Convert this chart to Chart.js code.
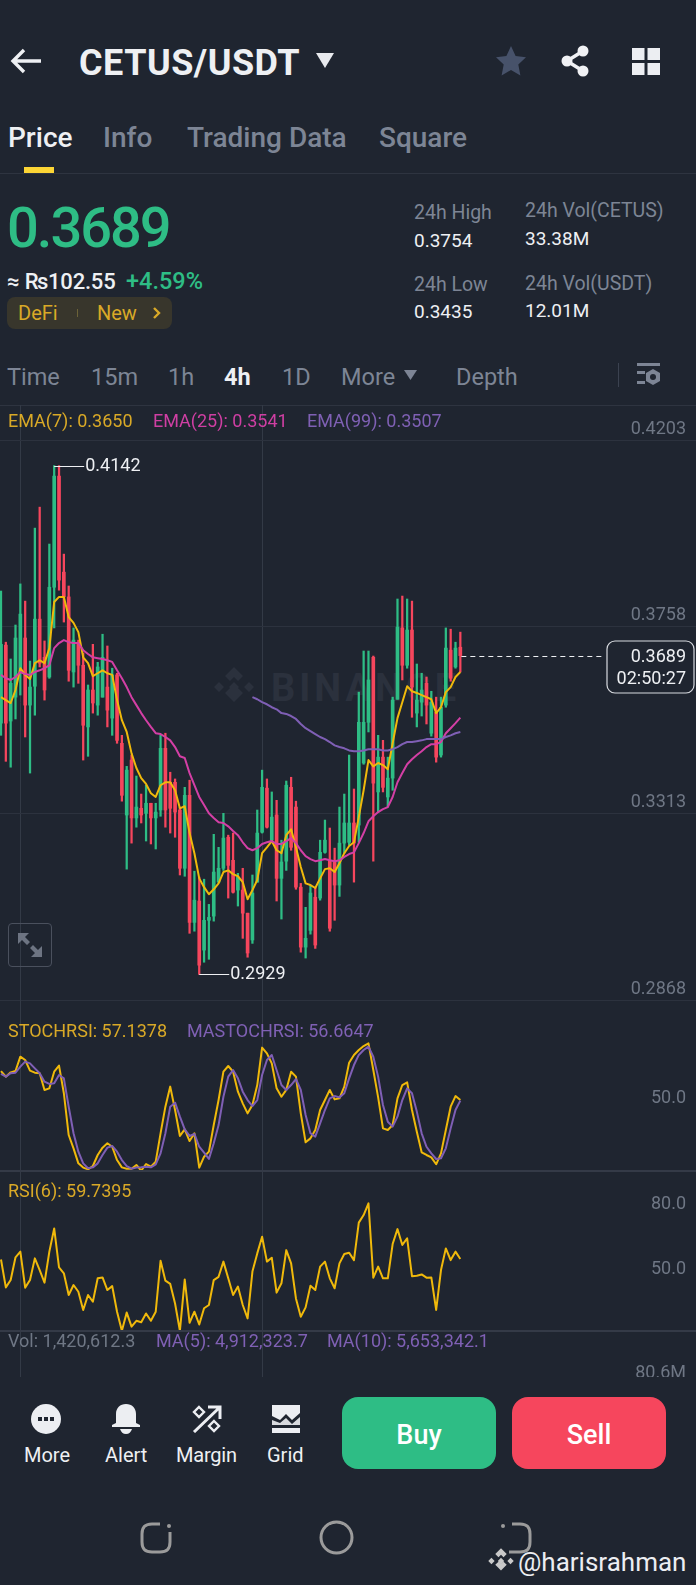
<!DOCTYPE html>
<html><head><meta charset="utf-8">
<script src="https://cdn.jsdelivr.net/npm/chart.js@4"></script>
<style>
html,body{margin:0;padding:0;background:#1f2530;}
#page{position:relative;width:696px;height:1585px;background:#1f2530;overflow:hidden;font-family:Roboto,sans-serif;}
.t{position:absolute;white-space:nowrap;transform:translateY(-50%);line-height:1;}
.hl{position:absolute;left:0;width:696px;height:1px;background:#2e3440;}
.sep{position:absolute;left:0;width:696px;height:2px;background:#343a47;}
.panel{position:absolute;left:0;width:696px;overflow:hidden;}
canvas{position:absolute;left:0;top:0;display:block;}
.g{color:#7d8595;} .w{color:#eef0f3;} .ax{color:#6f7785;}
.y{color:#d9a927;} .m{color:#cf3fa3;} .p{color:#7f60b4;} 
svg{position:absolute;}
</style></head><body><div id="page">

<!-- header -->
<svg style="left:10px;top:47px" width="33" height="28" viewBox="0 0 33 28"><path d="M31 14H3M14 3L3 14l11 11" fill="none" stroke="#eef0f3" stroke-width="3.4"/></svg>
<div class="t w" style="left:79px;top:63px;font-size:36px;font-weight:700;letter-spacing:.5px;">CETUS/USDT</div>
<svg style="left:316px;top:53px" width="18" height="15" viewBox="0 0 18 15"><path d="M0 0H18L9 15Z" fill="#e8eaee"/></svg>
<svg style="left:495px;top:45px" width="32" height="32" viewBox="0 0 32 32"><path d="M16 1l4.6 10 10.4 1.3-7.7 7.2 2.1 11L16 25l-9.4 5.5 2.1-11L1 12.3 11.4 11Z" fill="#47526a"/></svg>
<svg style="left:560px;top:45px" width="30" height="32" viewBox="0 0 30 32"><path d="M23 6L7 16l16 10" fill="none" stroke="#f0f1f4" stroke-width="3.5"/><circle cx="23" cy="6" r="5.5" fill="#f0f1f4"/><circle cx="7" cy="16" r="5.5" fill="#f0f1f4"/><circle cx="23" cy="26" r="5.5" fill="#f0f1f4"/></svg>
<svg style="left:632px;top:48px" width="28" height="27" viewBox="0 0 28 27" fill="#eceef2"><rect width="12.5" height="12"/><rect x="15.5" width="12.5" height="12"/><rect y="15" width="12.5" height="12"/><rect x="15.5" y="15" width="12.5" height="12"/></svg>

<!-- tabs -->
<div class="t w" style="left:8px;top:138px;font-size:28px;font-weight:500;">Price</div>
<div class="t g" style="left:103px;top:138px;font-size:28px;font-weight:500;">Info</div>
<div class="t g" style="left:187px;top:138px;font-size:28px;font-weight:500;">Trading Data</div>
<div class="t g" style="left:379px;top:138px;font-size:28px;font-weight:500;">Square</div>
<div style="position:absolute;left:0;top:173px;width:696px;height:1px;background:#2e3440"></div>
<div style="position:absolute;left:24px;top:167px;width:30px;height:6px;background:#fcd535"></div>

<!-- price block -->
<div class="t" style="left:7px;top:228px;font-size:56px;font-weight:500;letter-spacing:-2px;color:#2ebd85;">0.3689</div>
<div class="t w" style="left:7px;top:282px;font-size:22px;font-weight:500;letter-spacing:-.2px;">≈ ₨102.55</div>
<div class="t" style="left:126px;top:282px;font-size:23.5px;font-weight:500;color:#2ebd85;">+4.59%</div>
<div style="position:absolute;left:7px;top:297px;width:165px;height:32px;border-radius:8px;background:#38362c"></div>
<div class="t y" style="left:18px;top:313px;font-size:20px;">DeFi</div>
<div style="position:absolute;left:77px;top:309px;width:1px;height:8px;background:#6b6238"></div>
<div class="t y" style="left:97px;top:313px;font-size:20px;">New</div>
<svg style="left:152px;top:306px" width="10" height="14" viewBox="0 0 10 14"><path d="M2 2l5 5-5 5" fill="none" stroke="#d9a927" stroke-width="2.4"/></svg>

<div class="t g" style="left:414px;top:213px;font-size:19.5px;">24h High</div>
<div class="t w" style="left:414px;top:240px;font-size:19px;">0.3754</div>
<div class="t g" style="left:414px;top:285px;font-size:19.5px;">24h Low</div>
<div class="t w" style="left:414px;top:311px;font-size:19px;">0.3435</div>
<div class="t g" style="left:525px;top:211px;font-size:19.5px;">24h Vol(CETUS)</div>
<div class="t w" style="left:525px;top:238px;font-size:19px;">33.38M</div>
<div class="t g" style="left:525px;top:284px;font-size:19.5px;">24h Vol(USDT)</div>
<div class="t w" style="left:525px;top:310px;font-size:19px;">12.01M</div>

<!-- interval bar -->
<div class="t g" style="left:7px;top:378px;font-size:23.5px;">Time</div>
<div class="t g" style="left:91px;top:378px;font-size:23.5px;">15m</div>
<div class="t g" style="left:168px;top:378px;font-size:23.5px;">1h</div>
<div class="t w" style="left:224px;top:378px;font-size:23.5px;font-weight:700;">4h</div>
<div class="t g" style="left:282px;top:378px;font-size:23.5px;">1D</div>
<div class="t g" style="left:341px;top:378px;font-size:23.5px;">More</div>
<svg style="left:404px;top:370px" width="13" height="10" viewBox="0 0 13 10"><path d="M0 0H13L6.5 10Z" fill="#7d8595"/></svg>
<div class="t g" style="left:456px;top:378px;font-size:23.5px;">Depth</div>
<div style="position:absolute;left:618px;top:363px;width:1px;height:24px;background:#3b4250"></div>
<svg style="left:637px;top:362px" width="24" height="26" viewBox="0 0 24 26" fill="#7d8595"><rect width="23" height="3" y="1"/><rect x="0" y="9" width="8" height="3"/><rect x="0" y="19" width="8" height="3"/><path d="M16 7l7 4v8l-7 4-7-4v-8z"/><circle cx="16" cy="15" r="3" fill="#1f2530"/></svg>

<!-- watermark behind chart -->
<svg style="left:212px;top:665px" width="44" height="44" viewBox="0 0 44 44" fill="#2b313d"><path d="M22 2l9 9-5 5-4-4-4 4-5-5zM7 17l5 5-5 5-5-5zM37 17l5 5-5 5-5-5zM22 17l5 5-5 5-5-5zM13 28l5-5 4 4 4-4 5 5-9 9z"/></svg>
<div class="t" style="left:271px;top:688px;font-size:38px;font-weight:700;letter-spacing:4px;color:#2b313d;">BINANCE</div>

<div class="hl" style="top:405px"></div>
<div class="panel" style="top:405px;height:597px"><canvas id="mainChart" width="696" height="597"></canvas></div>
<div class="panel" style="top:1000px;height:173px"><canvas id="stochChart" width="696" height="173"></canvas></div>
<div class="panel" style="top:1171px;height:162px"><canvas id="rsiChart" width="696" height="162"></canvas></div>
<div class="panel" style="top:1331px;height:46px"><canvas id="volChart" width="696" height="89"></canvas></div>
<div class="sep" style="top:1170px"></div>
<div class="sep" style="top:1330px"></div>

<!-- indicator legends -->
<div class="t y" style="left:8px;top:421px;font-size:18px;">EMA(7): 0.3650</div>
<div class="t m" style="left:153px;top:421px;font-size:18px;">EMA(25): 0.3541</div>
<div class="t p" style="left:307px;top:421px;font-size:18px;">EMA(99): 0.3507</div>
<div class="t y" style="left:8px;top:1031px;font-size:18px;">STOCHRSI: 57.1378</div>
<div class="t p" style="left:187px;top:1031px;font-size:18px;">MASTOCHRSI: 56.6647</div>
<div class="t y" style="left:8px;top:1191px;font-size:18px;">RSI(6): 59.7395</div>
<div class="t ax" style="left:8px;top:1341px;font-size:18px;">Vol: 1,420,612.3</div>
<div class="t p" style="left:156px;top:1341px;font-size:18px;">MA(5): 4,912,323.7</div>
<div class="t p" style="left:327px;top:1341px;font-size:18px;">MA(10): 5,653,342.1</div>

<!-- expand button -->
<div style="position:absolute;left:8px;top:923px;width:42px;height:42px;border:1.5px solid #4a505d;border-radius:4px"></div>
<svg style="left:17px;top:932px" width="26" height="26" viewBox="0 0 26 26" fill="#6d7482"><path d="M1 1h11L8 5l5 5-3 3-5-5-4 4zM25 25H14l4-4-5-5 3-3 5 5 4-4z"/></svg>

<!-- bottom toolbar -->
<svg style="left:31px;top:1404px" width="30" height="30" viewBox="0 0 30 30"><circle cx="15" cy="15" r="15" fill="#eceef2"/><rect x="7" y="13" width="4" height="4" fill="#1f2530"/><rect x="13" y="13" width="4" height="4" fill="#1f2530"/><rect x="19" y="13" width="4" height="4" fill="#1f2530"/></svg>
<svg style="left:112px;top:1404px" width="28" height="30" viewBox="0 0 28 30" fill="#eceef2"><path d="M14 0c6 0 10 4 10 10v9l4 2v2H0v-2l4-2v-9C4 4 8 0 14 0z"/><path d="M8 25h12c-1 3-3 5-6 5s-5-2-6-5z"/></svg>
<svg style="left:192px;top:1405px" width="30" height="28" viewBox="0 0 30 28"><path d="M2 27L27 3M16 2h12v12" fill="none" stroke="#eceef2" stroke-width="3"/><path d="M7 2l5 5-5 5-5-5z" fill="none" stroke="#eceef2" stroke-width="2.4"/><path d="M22 16l5 5-5 5-5-5z" fill="none" stroke="#eceef2" stroke-width="2.4"/></svg>
<svg style="left:272px;top:1405px" width="28" height="28" viewBox="0 0 28 28" fill="#eceef2"><path d="M0 0h28v8l-8 7-6-6-6 6-8-4z"/><path d="M0 15l8 3 6-5 6 6 8-7v8H0z" opacity=".9"/><rect y="23" width="28" height="5"/></svg>
<div class="t w" style="left:24px;top:1455px;font-size:20px;">More</div>
<div class="t w" style="left:105px;top:1455px;font-size:20px;">Alert</div>
<div class="t w" style="left:176px;top:1455px;font-size:20px;letter-spacing:-.2px;">Margin</div>
<div class="t w" style="left:267px;top:1455px;font-size:20px;">Grid</div>
<div style="position:absolute;left:342px;top:1397px;width:154px;height:72px;border-radius:16px;background:#2ebd85"></div>
<div style="position:absolute;left:512px;top:1397px;width:154px;height:72px;border-radius:16px;background:#f6465d"></div>
<div class="t" style="left:342px;width:154px;text-align:center;top:1435px;font-size:27px;font-weight:500;color:#fff;">Buy</div>
<div class="t" style="left:512px;width:154px;text-align:center;top:1435px;font-size:27px;font-weight:500;color:#fff;">Sell</div>

<!-- nav bar -->
<svg style="left:140px;top:1522px" width="32" height="32" viewBox="0 0 32 32"><path d="M20 2H12C5 2 2 5 2 12v8c0 7 3 10 10 10h8c7 0 10-3 10-10V10" fill="none" stroke="#9b9b9b" stroke-width="3"/><circle cx="29" cy="4" r="2" fill="#9b9b9b"/></svg>
<svg style="left:319px;top:1520px" width="35" height="35" viewBox="0 0 35 35"><circle cx="17.5" cy="17.5" r="15.5" fill="none" stroke="#9b9b9b" stroke-width="3"/></svg>
<svg style="left:500px;top:1522px" width="32" height="32" viewBox="0 0 32 32"><path d="M12 2h8c7 0 10 3 10 10v8c0 7-3 10-10 10H9" fill="none" stroke="#9b9b9b" stroke-width="3"/><circle cx="3" cy="4" r="2" fill="#9b9b9b"/></svg>
<svg style="left:487px;top:1547px" width="28" height="28" viewBox="0 0 44 44" fill="#c9c9c9"><path d="M22 2l9 9-5 5-4-4-4 4-5-5zM7 17l5 5-5 5-5-5zM37 17l5 5-5 5-5-5zM22 17l5 5-5 5-5-5zM13 28l5-5 4 4 4-4 5 5-9 9z"/></svg>
<div class="t" style="left:518px;top:1562px;font-size:26px;color:#eceef2;">@harisrahman</div>
</div>

<script>
const opens=[.3528,.3714,.3533,.3590,.3650,.3731,.3571,.3616,.3776,.3685,.3638,.3852,.4117,.3888,.3829,.3650,.3721,.3666,.3519,.3607,.3571,.3590,.3614,.3540,.3643,.3480,.3309,.3440,.3302,.3325,.3313,.3337,.3302,.3321,.3468,.3387,.3387,.3321,.3182,.3356,.3053,.3104,.2987,.3058,.3068,.3149,.3182,.3256,.3201,.3130,.3130,.3075,.3011,.3149,.3268,.3373,.3249,.3309,.3158,.3199,.3375,.3328,.3137,.2994,.3034,.3113,.3111,.3220,.3201,.3201,.3142,.3242,.3244,.3290,.3285,.3433,.3530,.3685,.3364,.3447,.3352,.3397,.3585,.3755,.3666,.3750,.3552,.3578,.3623,.3504,.3554,.3452,.3571,.3702,.3662,.3709];
const closes=[.3716,.3528,.3623,.3731,.3788,.3571,.3614,.3776,.3671,.3607,.3852,.4117,.3869,.3829,.3654,.3726,.3666,.3523,.3607,.3576,.3662,.3685,.3559,.3643,.3487,.3356,.3416,.3302,.3328,.3309,.3337,.3302,.3316,.3468,.3321,.3325,.3316,.3182,.3356,.3053,.3106,.2951,.3058,.3065,.3173,.3182,.3254,.3189,.3125,.3161,.3075,.2980,.3123,.3266,.3375,.3280,.3304,.3158,.3197,.3380,.3232,.3137,.2994,.3015,.3123,.2999,.3220,.3249,.3039,.3142,.3242,.3290,.3290,.3242,.3530,.3530,.3631,.3385,.3447,.3375,.3397,.3583,.3757,.3666,.3750,.3614,.3583,.3607,.3571,.3578,.3447,.3566,.3707,.3635,.3707,.3689];
const highs=[.3843,.3721,.3681,.3762,.3860,.3819,.3676,.3993,.4043,.3724,.3955,.4142,.4142,.3931,.3855,.3755,.3726,.3695,.3619,.3716,.3673,.3740,.3712,.3659,.3647,.3499,.3425,.3452,.3402,.3359,.3380,.3337,.3337,.3499,.3504,.3411,.3395,.3328,.3375,.3392,.3175,.3161,.3156,.3096,.3263,.3232,.3313,.3261,.3266,.3170,.3182,.3075,.3166,.3321,.3416,.3395,.3364,.3344,.3249,.3390,.3399,.3342,.3146,.3089,.3142,.3137,.3249,.3297,.3278,.3230,.3328,.3359,.3452,.3371,.3602,.3700,.3700,.3688,.3499,.3487,.3447,.3590,.3824,.3831,.3824,.3819,.3669,.3647,.3638,.3604,.3590,.3590,.3755,.3752,.3721,.3745];
const lows=[.3499,.3437,.3423,.3538,.3595,.3495,.3409,.3547,.3662,.3583,.3635,.3755,.3845,.3769,.3628,.3614,.3623,.3440,.3449,.3552,.3547,.3590,.3519,.3499,.3480,.3342,.3180,.3242,.3280,.3290,.3247,.3240,.3228,.3306,.3280,.3266,.3256,.3166,.3163,.3027,.3032,.2929,.2958,.2965,.3056,.3149,.3177,.3111,.3123,.3092,.3015,.2970,.3003,.3149,.3266,.3278,.3244,.3104,.3061,.3177,.3225,.3132,.2982,.2968,.3025,.2991,.3106,.3218,.3032,.3058,.3115,.3218,.3237,.3149,.3244,.3430,.3507,.3199,.3316,.3364,.3328,.3368,.3585,.3631,.3659,.3542,.3519,.3545,.3526,.3497,.3435,.3447,.3566,.3628,.3659,.3650];
const ema7=[.3590,.3583,.3576,.3607,.3659,.3643,.3633,.3671,.3678,.3671,.3707,.3817,.3829,.3829,.3781,.3767,.3745,.3685,.3671,.3640,.3647,.3654,.3647,.3643,.3583,.3535,.3507,.3456,.3421,.3397,.3383,.3361,.3352,.3380,.3387,.3387,.3368,.3325,.3330,.3266,.3218,.3158,.3137,.3120,.3132,.3146,.3173,.3177,.3168,.3163,.3149,.3108,.3130,.3154,.3218,.3232,.3247,.3225,.3218,.3261,.3275,.3232,.3185,.3146,.3142,.3135,.3158,.3180,.3182,.3173,.3194,.3218,.3235,.3244,.3304,.3368,.3440,.3425,.3433,.3428,.3418,.3480,.3540,.3578,.3616,.3604,.3600,.3595,.3590,.3585,.3552,.3566,.3602,.3614,.3638,.3650];
const ema25=[.3643,.3635,.3631,.3638,.3650,.3645,.3643,.3650,.3654,.3659,.3666,.3707,.3719,.3726,.3721,.3719,.3719,.3702,.3693,.3685,.3683,.3681,.3678,.3674,.3654,.3635,.3614,.3590,.3571,.3552,.3535,.3519,.3504,.3502,.3495,.3487,.3471,.3449,.3445,.3409,.3380,.3352,.3333,.3313,.3302,.3292,.3290,.3282,.3271,.3261,.3244,.3230,.3225,.3230,.3240,.3244,.3247,.3240,.3240,.3247,.3254,.3242,.3225,.3211,.3204,.3199,.3201,.3204,.3201,.3199,.3201,.3209,.3216,.3220,.3242,.3266,.3294,.3306,.3316,.3323,.3328,.3352,.3387,.3409,.3430,.3442,.3452,.3461,.3471,.3478,.3478,.3483,.3504,.3516,.3528,.3541];
const ema99Start=52;
const ema99=[.3590,.3585,.3578,.3573,.3566,.3561,.3552,.3550,.3545,.3538,.3526,.3516,.3509,.3502,.3495,.3490,.3483,.3475,.3471,.3468,.3463,.3461,.3461,.3463,.3466,.3466,.3466,.3463,.3463,.3466,.3471,.3478,.3483,.3483,.3485,.3487,.3490,.3490,.3490,.3490,.3495,.3499,.3504,.3507];
const stochRsi=[78.9,74.7,77.9,78.9,89.7,87.2,79.2,77.7,77.2,64.7,65.9,78.4,83.0,62.2,30.8,20.8,9.5,6.3,5.0,7.5,15.8,21.3,24.6,22.0,12.0,6.5,5.5,5.5,8.3,4.0,9.0,7.0,10.8,32.1,52.1,67.2,49.6,30.1,35.1,26.3,32.1,6.3,14.5,18.3,38.3,57.1,78.4,82.7,78.4,63.4,54.6,47.1,53.4,68.4,96.5,92.2,84.7,65.9,59.6,64.7,78.4,74.7,47.1,25.3,28.3,34.6,49.6,57.1,64.7,57.6,58.4,67.2,85.2,91.0,94.7,97.7,99.7,79.7,59.1,35.8,34.6,38.3,58.4,68.4,70.4,49.6,33.3,17.8,15.8,14.0,8.8,17.0,34.6,52.1,60.1,57.1378];
const maStochRsi=[76.7,74.7,77.2,77.7,82.2,86.0,84.7,80.9,77.2,70.9,69.2,69.7,75.9,73.4,52.1,32.1,18.3,9.5,5.8,6.5,9.5,15.8,21.3,22.6,18.3,12.0,7.5,5.5,6.3,6.5,7.0,6.5,8.8,17.0,32.1,52.1,55.1,44.6,35.1,30.1,31.6,22.0,17.5,12.8,24.6,38.3,59.6,74.7,79.7,73.4,63.4,57.1,52.6,57.1,75.9,87.2,91.0,79.7,68.4,64.7,68.4,72.9,64.7,45.9,32.1,29.6,39.6,49.6,58.4,60.1,59.1,62.2,73.4,83.4,91.0,94.7,97.2,89.7,74.7,53.4,40.8,37.1,44.6,57.1,65.9,62.2,48.4,32.1,22.0,17.0,12.8,13.3,20.8,35.8,49.6,56.6647];
const rsi6=[59.5,46.6,50.0,60.5,63.1,46.5,50.0,60.0,54.6,48.8,63.1,73.8,55.8,53.1,43.1,47.7,44.6,36.2,43.1,40.0,50.8,51.2,45.4,47.2,35.4,26.6,35.0,28.5,31.2,30.5,34.6,31.2,35.4,58.9,49.7,48.2,39.2,26.6,50.3,30.3,35.4,29.5,37.0,38.5,50.0,51.5,58.5,50.8,43.1,47.0,38.5,32.3,53.9,62.3,70.0,58.5,60.3,44.2,48.5,63.8,57.7,41.5,33.1,37.4,47.4,45.4,56.2,58.5,50.8,46.2,57.7,62.0,62.6,59.2,76.5,80.0,85.4,51.1,56.2,50.8,50.8,66.6,73.5,66.2,69.2,51.8,52.0,52.6,51.1,51.2,36.2,54.6,64.6,59.2,63.1,59.7395];
const priceTicks=[0.2868,0.3313,0.3758,0.4203];
const stochTicks=[50];
const rsiTicks=[50,80];
const volTicks=[80.6];
const dividerCandles=[4,54];
const highMark={index:11,value:0.4142};
const lowMark={index:41,value:0.2929};
const lastPrice=0.3689;
const countdown="02:50:27";

const GREEN='#2ebd85',RED='#f6465d',YEL='#f0b90b',MAG='#d33fa5',PUR='#7f5fb5',GRID='#2c323e',AXIS='#6f7785';
const idx=opens.map((_,i)=>i);
const pts=(a,s=0)=>a.map((v,i)=>({x:i+s,y:v}));
const line=(data,color)=>({type:'line',data,borderColor:color,borderWidth:2,pointRadius:0,tension:0,order:0,borderJoinStyle:'round'});
const noPad=s=>{s.paddingTop=0;s.paddingBottom=0;s.paddingLeft=0;s.paddingRight=0;if(s.axis==='y')s.width=0;else s.height=0;};

function xScale(){return {type:'linear',min:-0.207,max:143.74,offset:false,afterFit:noPad,
  afterBuildTicks:s=>{s.ticks=dividerCandles.map(v=>({value:v}));},
  ticks:{display:false},border:{display:false},
  grid:{offset:false,color:'#333a46',lineWidth:1,drawTicks:false}};}
function yScale(min,max,tickVals,fmt,drawGrid){return {type:'linear',position:'right',min,max,afterFit:noPad,
  afterBuildTicks:s=>{s.ticks=tickVals.map(v=>({value:v}));},
  border:{display:false},
  grid:{display:drawGrid,color:GRID,lineWidth:1,drawTicks:false},
  ticks:{mirror:true,padding:-10,labelOffset:-11,color:AXIS,autoSkip:false,maxRotation:0,
    font:{family:'Roboto',size:18},callback:fmt}};}
const base=(pad)=>({responsive:false,animation:false,devicePixelRatio:1,
  layout:{padding:pad,autoPadding:false},
  plugins:{legend:{display:false},tooltip:{enabled:false},title:{display:false}},events:[]});

const marks={id:'marks',afterDatasetsDraw(c){
  const x=c.scales.x,y=c.scales.y,g=c.ctx;
  g.save();g.font='18px Roboto';g.textBaseline='middle';g.textAlign='left';
  g.strokeStyle='#eef0f3';g.fillStyle='#eef0f3';g.lineWidth=1;
  for(const m of [highMark,lowMark]){
    const px=x.getPixelForValue(m.index),py=Math.round(y.getPixelForValue(m.value))+.5;
    g.beginPath();g.moveTo(px,py);g.lineTo(px+30,py);g.stroke();
    g.fillText(m.value.toFixed(4),px+31,py);
  }
  const lx=x.getPixelForValue(opens.length-1)+1,ly=Math.round(y.getPixelForValue(lastPrice))+.5;
  g.setLineDash([5,4]);g.beginPath();g.moveTo(lx,ly);g.lineTo(603,ly);g.stroke();g.setLineDash([]);
  g.lineWidth=1.2;g.strokeStyle='#d8dbe0';g.beginPath();g.roundRect(607,ly-15.5,87,52,8);g.stroke();
  g.textAlign='right';g.fillText(lastPrice.toFixed(4),686,ly+1);g.fillText(countdown,686,ly+23);
  g.restore();}};

new Chart('mainChart',{type:'bar',data:{datasets:[
  line(pts(ema99,ema99Start),PUR),line(pts(ema25),MAG),line(pts(ema7),YEL),
  {data:idx.map(i=>({x:i,y:[lows[i],highs[i]]})),barThickness:1.6,grouped:false,order:2,borderWidth:0,
   backgroundColor:idx.map(i=>closes[i]>=opens[i]?GREEN:RED)},
  {data:idx.map(i=>({x:i,y:[opens[i],closes[i]]})),barThickness:3,grouped:false,order:1,borderWidth:0,minBarLength:1,
   backgroundColor:idx.map(i=>closes[i]>=opens[i]?GREEN:RED)}
]},options:{...base({bottom:2}),scales:{x:xScale(),y:yScale(0.2868,0.42865,priceTicks,v=>v.toFixed(4),true)}},plugins:[marks]});

new Chart('stochChart',{type:'line',data:{datasets:[line(pts(maStochRsi),PUR),line(pts(stochRsi),YEL)]},
 options:{...base({bottom:2}),scales:{x:xScale(),y:yScale(3.76,132.3,stochTicks,v=>v.toFixed(1),false)}}});

new Chart('rsiChart',{type:'line',data:{datasets:[line(pts(rsi6),YEL)]},
 options:{...base({bottom:2}),scales:{x:xScale(),y:yScale(26.5,100.3,rsiTicks,v=>v.toFixed(1),false)}}});

new Chart('volChart',{type:'bar',data:{datasets:[]},
 options:{...base({}),scales:{x:xScale(),y:yScale(44.6,133.6,volTicks,v=>v.toFixed(1)+'M',false)}}});
</script></body></html>
